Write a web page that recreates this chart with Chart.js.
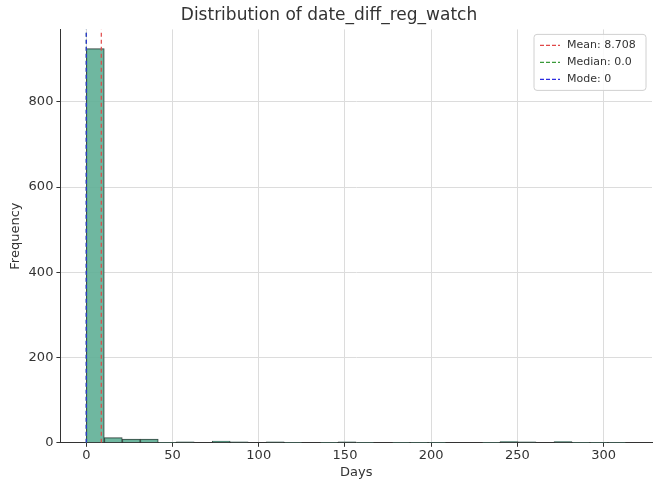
<!DOCTYPE html>
<html><head><meta charset="utf-8">
<script src="https://cdn.jsdelivr.net/npm/chart.js@4.4.0/dist/chart.umd.min.js"></script>
<style>body{margin:0;background:#fff}#wrap{width:660px;height:480px}</style>
</head><body><div id="wrap"><canvas id="c"></canvas></div>
<script>
const binWidth = 10.43;
const counts = [925, 12, 9, 9, 1, 2, 0, 4, 2, 0, 2, 1, 0, 1, 2, 1, 0, 1, 1, 1, 0, 0, 1, 3, 2, 0, 3, 1, 1, 1];
const refLines = [
  { label: 'Mean: 8.708', value: 8.708, color: '#e04848' },
  { label: 'Median: 0.0', value: 0, color: '#3a9a3a' },
  { label: 'Mode: 0', value: 0, color: '#2c2ce0' }
];
const xTicks = [0, 50, 100, 150, 200, 250, 300];
const yTicks = [0, 200, 400, 600, 800];

const bars = counts.map((v, i) => ({ x: (i + 0.5) * binWidth, y: v }));
const datasets = [{
  type: 'bar', data: bars, backgroundColor: 'rgba(95,175,150,0.9)',
  borderColor: '#3a4a44', borderWidth: 1, barPercentage: 1, categoryPercentage: 1, order: 10
}];
refLines.forEach((r, i) => datasets.push({
  type: 'line', label: r.label, data: [{ x: r.value, y: 0 }, { x: r.value, y: 970 }],
  borderColor: r.color, borderDash: [4, 3], borderWidth: 1.2, pointRadius: 0, order: 3 - i
}));

const legendBox = {
  id: 'legendBox',
  afterDraw(chart) {
    const ctx = chart.ctx, a = chart.chartArea;
    const w = 112, h = 56, x = a.right - w - 6, y = a.top + 5;
    ctx.save();
    ctx.fillStyle = 'rgba(255,255,255,0.85)';
    ctx.strokeStyle = '#d0d0d0';
    ctx.lineWidth = 1;
    ctx.beginPath(); ctx.roundRect(x, y, w, h, 3); ctx.fill(); ctx.stroke();
    ctx.font = '11px "DejaVu Sans"';
    ctx.textBaseline = 'middle';
    refLines.forEach((r, i) => {
      const ly = y + 11 + i * 17;
      ctx.strokeStyle = r.color; ctx.setLineDash([4, 2]); ctx.lineWidth = 1.2;
      ctx.beginPath(); ctx.moveTo(x + 6, ly); ctx.lineTo(x + 26, ly); ctx.stroke();
      ctx.setLineDash([]);
      ctx.fillStyle = '#333'; ctx.fillText(r.label, x + 33, ly);
    });
    ctx.restore();
  }
};

new Chart(document.getElementById('c'), {
  data: { datasets },
  plugins: [legendBox],
  options: {
    responsive: true, maintainAspectRatio: false, animation: false,
    layout: { padding: { left: 6, right: 8, top: 3, bottom: 0 } },
    plugins: {
      legend: { display: false }, tooltip: { enabled: false },
      title: { display: true, text: 'Distribution of date_diff_reg_watch', color: '#333',
        font: { family: 'DejaVu Sans', size: 17, weight: 'normal' }, padding: { top: 2, bottom: 4 } }
    },
    scales: {
      x: {
        type: 'linear', min: -15, max: 328, offset: false,
        afterBuildTicks: s => { s.ticks = xTicks.map(v => ({ value: v })); },
        title: { display: true, text: 'Days', color: '#333', font: { family: 'DejaVu Sans', size: 13 }, padding: 0 },
        ticks: { color: '#333', font: { family: 'DejaVu Sans', size: 13 }, autoSkip: false, padding: 1 },
        grid: { color: '#dcdcdc', tickColor: '#333', tickLength: 4, offset: false },
        border: { color: '#333' }
      },
      y: {
        min: 0, max: 970,
        afterBuildTicks: s => { s.ticks = yTicks.map(v => ({ value: v })); },
        title: { display: true, text: 'Frequency', color: '#333', font: { family: 'DejaVu Sans', size: 13 }, padding: 2 },
        ticks: { color: '#333', font: { family: 'DejaVu Sans', size: 13 } },
        grid: { color: '#dcdcdc', tickColor: '#333', tickLength: 4 },
        border: { color: '#333' }
      }
    }
  }
});
</script></body></html>
